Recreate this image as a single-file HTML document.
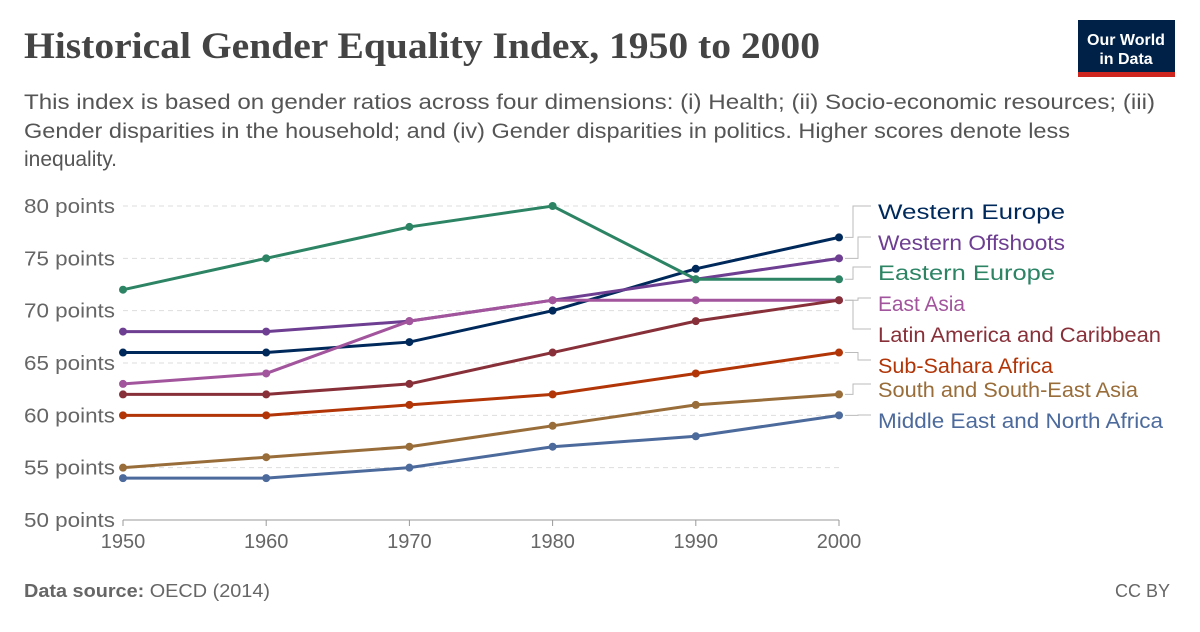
<!DOCTYPE html>
<html><head><meta charset="utf-8"><style>
body{margin:0;width:1200px;height:627px;background:#fff;overflow:hidden;font-family:"Liberation Sans",sans-serif}
</style></head><body>
<svg width="1200" height="627" xmlns="http://www.w3.org/2000/svg">
<text x="24" y="58" font-family="Liberation Serif,serif" font-size="37" font-weight="bold" fill="#444" textLength="796" lengthAdjust="spacingAndGlyphs">Historical Gender Equality Index, 1950 to 2000</text>
<g font-size="21" fill="#555">
<text x="24" y="109" textLength="1131" lengthAdjust="spacingAndGlyphs">This index is based on gender ratios across four dimensions: (i) Health; (ii) Socio-economic resources; (iii)</text>
<text x="24" y="138" textLength="1046" lengthAdjust="spacingAndGlyphs">Gender disparities in the household; and (iv) Gender disparities in politics. Higher scores denote less</text>
<text x="24" y="166">inequality.</text>
</g>
<g>
<rect x="1078" y="20" width="97" height="57" fill="#002147"/>
<rect x="1078" y="72" width="97" height="5" fill="#ce261e"/>
<text x="1126" y="45" font-size="16" font-weight="bold" fill="#fff" text-anchor="middle">Our World</text>
<text x="1126" y="64" font-size="16" font-weight="bold" fill="#fff" text-anchor="middle">in Data</text>
</g>
<g id="grid"></g><g id="axes"></g><g id="series"></g><g id="legend"></g>
<text x="24" y="597" font-size="18" fill="#666" textLength="246" lengthAdjust="spacingAndGlyphs"><tspan font-weight="bold">Data source:</tspan> OECD (2014)</text>
<text x="1170" y="597" font-size="18" fill="#666" text-anchor="end">CC BY</text>
</svg>
<script>
const years=[1950,1960,1970,1980,1990,2000];
const yTicks=[50,55,60,65,70,75,80];
const names=["Western Europe","Western Offshoots","Eastern Europe","East Asia","Latin America and Caribbean","Sub-Sahara Africa","South and South-East Asia","Middle East and North Africa"];
const colors=["#00295b","#6d3e91","#2c8465","#a2559c","#883039","#b13507","#996d39","#4c6a9c"];
const vWE=[66,66,67,70,74,77];
const vWO=[68,68,69,71,73,75];
const vEE=[72,75,78,80,73,73];
const vEA=[63,64,69,71,71,71];
const vLA=[62,62,63,66,69,71];
const vSSA=[60,60,61,62,64,66];
const vSSEA=[55,56,57,59,61,62];
const vMENA=[54,54,55,57,58,60];
const series=[vWE,vWO,vEE,vEA,vLA,vSSA,vSSEA,vMENA];
const labelY=[212,243,273,304,335,366,390,421];
const labelW=[187,187,177,87,283,175,260,285];
const NS="http://www.w3.org/2000/svg";
const X=y=>123+(y-1950)*(839-123)/50;
const Y=v=>520-(v-50)*(520-206)/30;
function mk(t,a,p){const e=document.createElementNS(NS,t);for(const k in a)e.setAttribute(k,a[k]);document.getElementById(p).appendChild(e);return e;}
yTicks.forEach(t=>{
 if(t>50){const l=mk('line',{x1:123,x2:839,y1:Y(t),y2:Y(t),stroke:'#ddd','stroke-dasharray':'5,4'},'grid');
 
 }
 const tx=mk('text',{x:24,y:Y(t)+7,'font-size':20,fill:'#666',textLength:91,lengthAdjust:'spacingAndGlyphs'},'axes');tx.textContent=t+' points';
 
 
});
const ax=mk('line',{x1:123,x2:839,y1:520,y2:520,stroke:'#999'},'axes');


years.forEach(yr=>{
 mk('line',{x1:X(yr),x2:X(yr),y1:520,y2:526,stroke:'#999'},'axes');
 const tx=mk('text',{x:X(yr),y:548,'font-size':20,fill:'#666','text-anchor':'middle'},'axes');tx.textContent=yr;
 
 
});
series.forEach((s,i)=>{
 const g=mk('g',{},'series');
 
 
 const pl=document.createElementNS(NS,'polyline');
 pl.setAttribute('points',s.map((v,j)=>X(years[j])+','+Y(v)).join(' '));
 pl.setAttribute('fill','none');pl.setAttribute('stroke',colors[i]);pl.setAttribute('stroke-width',3);
 
 
 g.appendChild(pl);
 s.forEach((v,j)=>{const c=document.createElementNS(NS,'circle');c.setAttribute('cx',X(years[j]));c.setAttribute('cy',Y(v));c.setAttribute('r',4);c.setAttribute('fill',colors[i]);
 
 
 g.appendChild(c);});
 const yv=Y(s[s.length-1]), ly=labelY[i]-6, bx=853+(i%2)*5;
 const p=mk('path',{d:`M845,${yv} H${bx} V${ly} H871`,fill:'none',stroke:'#bbb','stroke-width':1},'legend');
 
 
 const t=mk('text',{x:878,y:labelY[i]+7,'font-size':21,fill:colors[i]},'legend');t.textContent=names[i];
 t.setAttribute('textLength',labelW[i]);
 t.setAttribute('lengthAdjust','spacingAndGlyphs');
 
 
});
</script>
</body></html>
